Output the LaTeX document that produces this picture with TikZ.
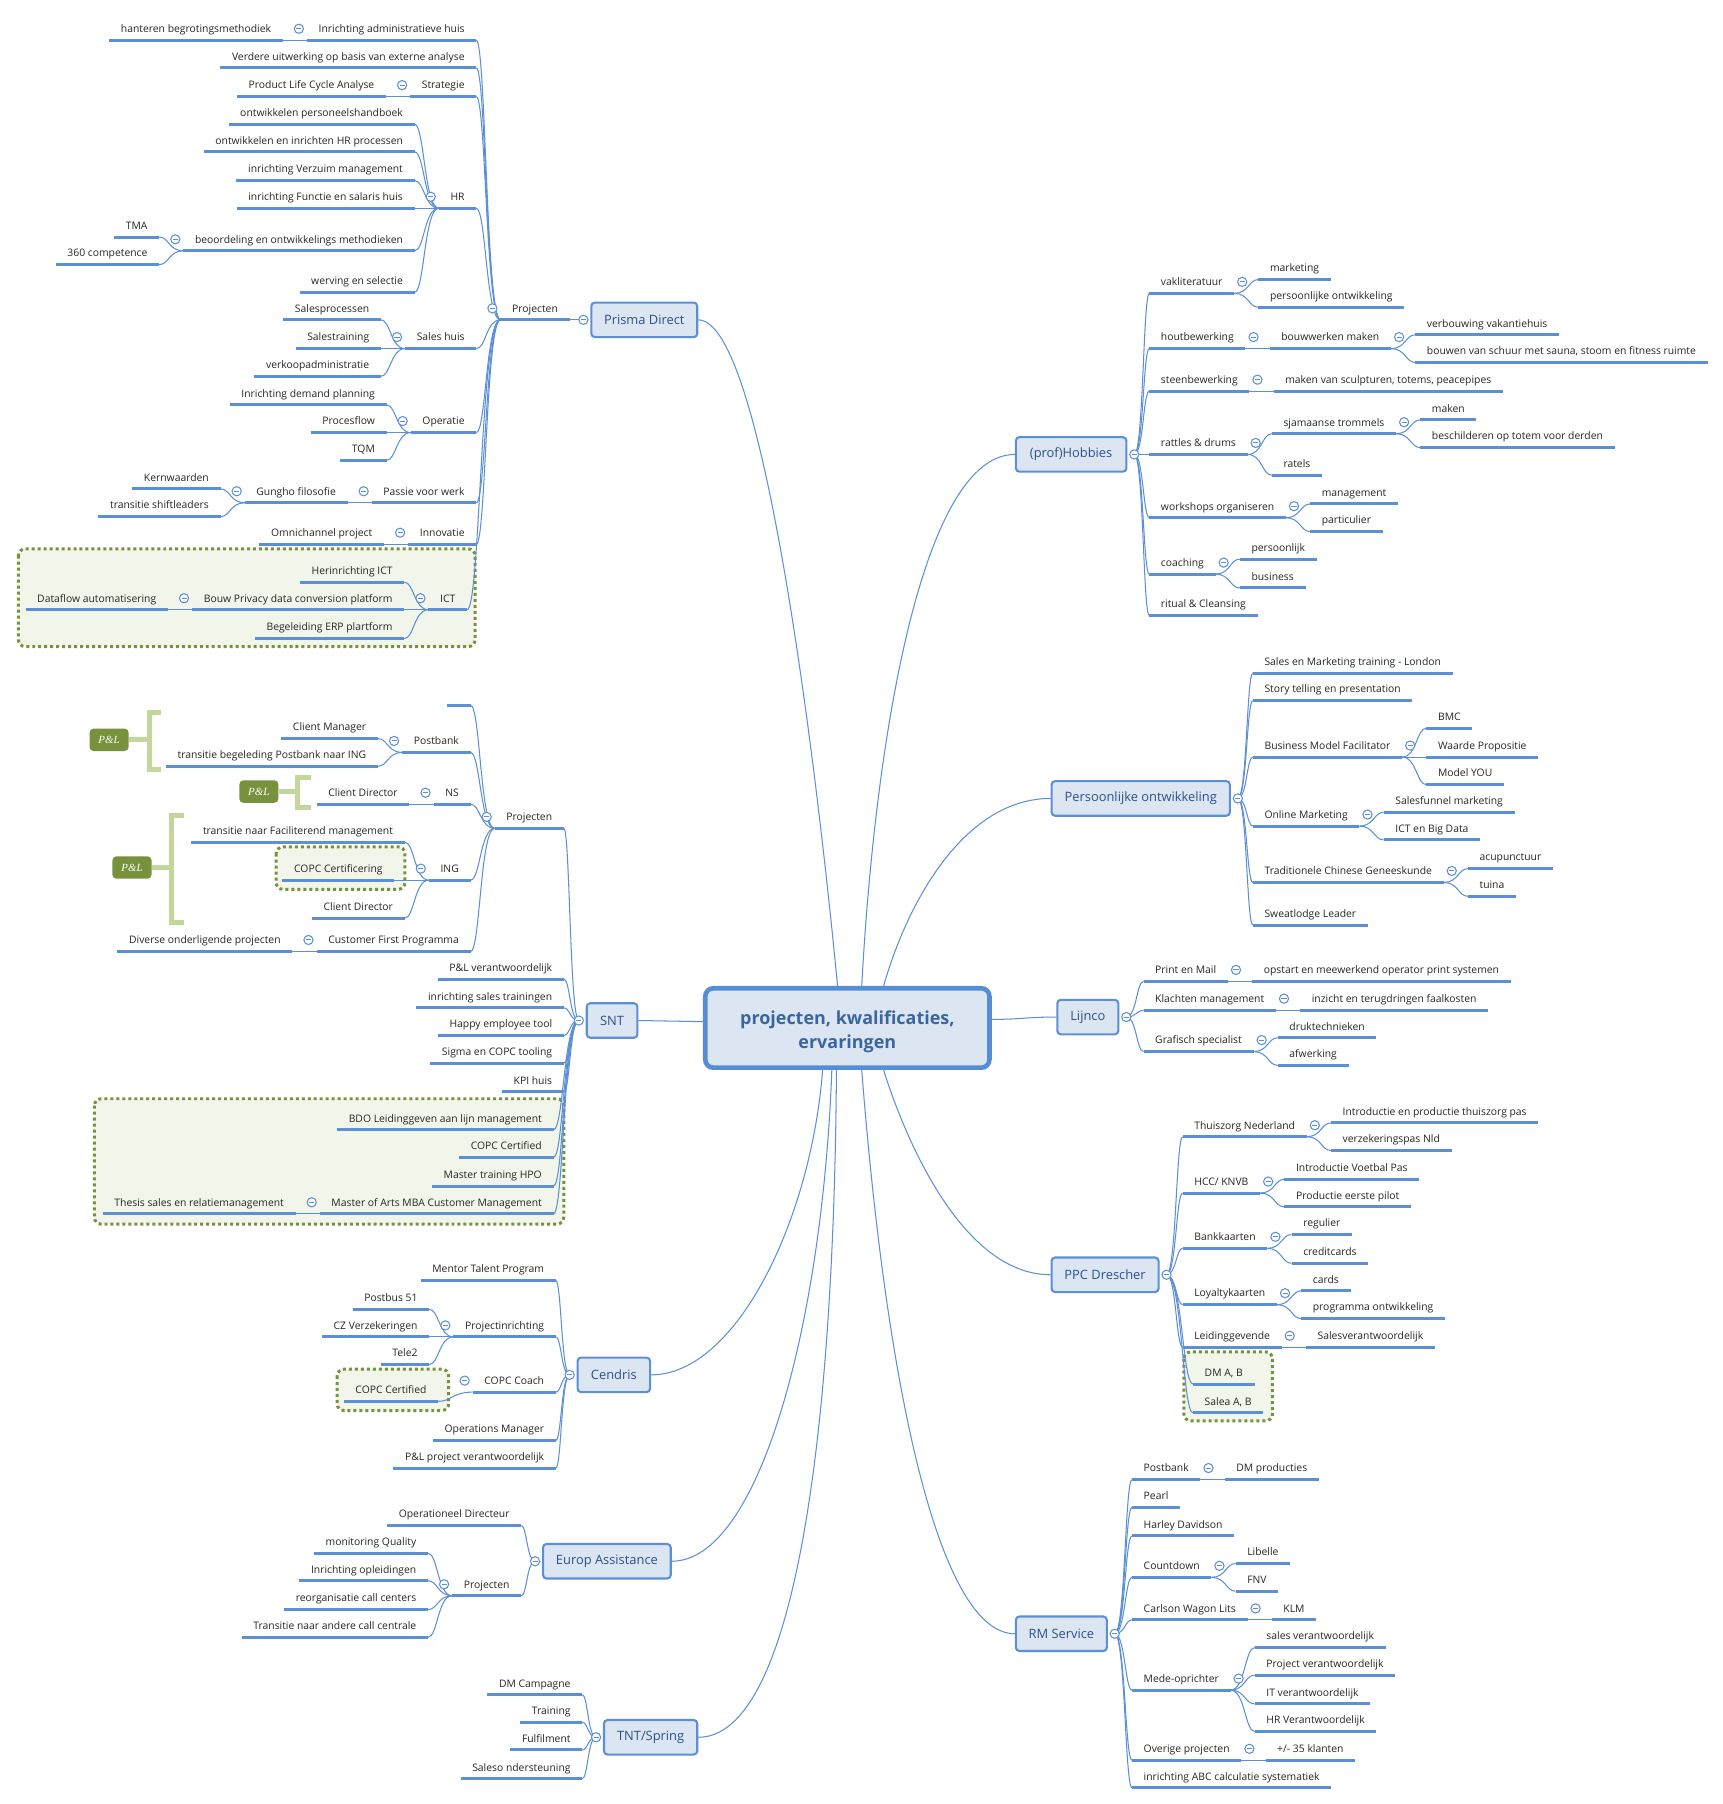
\documentclass[tikz,border=0pt]{standalone}
\usepackage{fontspec}
\setmainfont{Open Sans}
\newfontfamily\plserif{Liberation Serif}
\usetikzlibrary{calc}
\definecolor{lineblue}{HTML}{5B8FD6}
\definecolor{boxfill}{HTML}{DCE6F2}
\definecolor{boxtext}{HTML}{2B5189}
\definecolor{ctrline}{HTML}{558ED5}
\definecolor{ctrtext}{HTML}{3A66A0}
\definecolor{grpfill}{HTML}{F1F5EA}
\definecolor{grpline}{HTML}{76923C}
\definecolor{plgreen}{HTML}{76923C}
\definecolor{brkgreen}{HTML}{C3D69B}
\pgfdeclarelayer{grp}\pgfdeclarelayer{bg}\pgfsetlayers{grp,bg,main}
\newcommand\labfont{\fontsize{9}{10}\selectfont}
\newcommand\topfont{\fontsize{11.2}{13}\selectfont}
\newcommand\ctrfont{\fontsize{15.6}{21}\selectfont\bfseries}
\newcommand\mmL[5]{\path let \p1=(#2) in node[lab,anchor=south east] (#1) at (\x1-#3pt,-#4pt) {#5};}
\newcommand\mmR[5]{\path let \p1=(#2) in node[lab,anchor=south west] (#1) at (\x1+#3pt,-#4pt) {#5};}
\newcommand\cn[2]{\begin{pgfonlayer}{bg}\draw[conn] let \p1=(#1), \p2=(#2) in (\p1) .. controls ({\x2+0.4*(\x1-\x2)},\y1) and ({\x2+0.4*(\x1-\x2)},\y2) .. (\p2);\end{pgfonlayer}}
\newcommand\cnL[2]{\cn{#1.south west}{#2.south east}}
\newcommand\cnR[2]{\cn{#1.south east}{#2.south west}}
\newcommand\cmark[1]{\begin{scope}[shift={(#1)}]\draw[conn,fill=white] (0,0) circle[radius=4];\draw[conn] (-2.2,0) -- (2.2,0);\end{scope}}
\newcommand\ccL[1]{\cmark{$(#1.south west)+(-7,-10)$}}
\newcommand\ccR[1]{\cmark{$(#1.south east)+(7,-10)$}}
\begin{document}
\begin{tikzpicture}[x=1pt,y=-1pt,
 ul/.style={draw=lineblue, line width=2.6pt},
 conn/.style={draw=lineblue, line width=0.9pt},
 lab/.style={font=\labfont, text=black!85, inner xsep=10pt, inner ysep=4pt, text height=6.5pt, text depth=2.5pt,
   append after command={(\tikzlastnode.south west) edge[ul] (\tikzlastnode.south east)}},
 topic/.style={draw=lineblue, line width=1.8pt, fill=boxfill, rounded corners=3pt, font=\topfont, text=boxtext, minimum height=30pt, inner sep=0pt},
 grp/.style={draw=grpline, fill=grpfill, line width=2.6pt, dash pattern=on 2.6pt off 2.6pt, rounded corners=6pt},
 pl/.style={fill=plgreen, rounded corners=3.5pt, minimum width=34pt, minimum height=19.5pt, inner sep=0pt, text=white, font=\plserif\itshape\fontsize{9.5}{10}\selectfont},
 brk/.style={draw=brkgreen, line width=4.5pt}]
\begin{pgfonlayer}{grp}
\fill[white] (0,0) rectangle (1497,1568);
\draw[grp] (16,477) rectangle (413,562);
\draw[grp] (240,736) rectangle (352,773);
\draw[grp] (82,955) rectangle (490,1064);
\draw[grp] (293,1190) rectangle (390,1226);
\draw[grp] (1029,1175) rectangle (1106,1235);
\end{pgfonlayer}
\useasboundingbox (0,0) rectangle (1497,1568);

% ---------- central ----------
\node[draw=ctrline, line width=4pt, fill=boxfill, rounded corners=7pt, minimum width=247pt, minimum height=69pt, inner sep=0pt] (ctr) at (736.5,893.5) {};
\node[align=center, font=\ctrfont, text=ctrtext, inner sep=0pt] (ctrtxt) at ($(ctr.center)+(0,3)$) {projecten, kwalificaties,\\ervaringen};

% ---------- Prisma Direct ----------
\node[topic, minimum width=92] (prisma) at (560,278) {Prisma Direct};
\coordinate (prisma-j) at ($(prisma.west)+(-6,0)$);
\mmL{pp}{prisma.west}{18}{278}{Projecten}
\mmL{pa1}{pp.south west}{21}{35}{Inrichting administratieve huis}
\mmL{pa1a}{pa1.south west}{21}{35}{hanteren begrotingsmethodiek}
\mmL{pa2}{pp.south west}{21}{59}{Verdere uitwerking op basis van externe analyse}
\mmL{pa3}{pp.south west}{21}{84}{Strategie}
\mmL{pa3a}{pa3.south west}{21}{84}{Product Life Cycle Analyse}
\mmL{pa4}{pp.south west}{21}{181}{HR}
\mmL{hr1}{pa4.south west}{21}{108}{ontwikkelen personeelshandboek}
\mmL{hr2}{pa4.south west}{21}{132}{ontwikkelen en inrichten HR processen}
\mmL{hr3}{pa4.south west}{21}{157}{inrichting Verzuim management}
\mmL{hr4}{pa4.south west}{21}{181}{inrichting Functie en salaris huis}
\mmL{hr5}{pa4.south west}{21}{218}{beoordeling en ontwikkelings methodieken}
\mmL{hr5a}{hr5.south west}{21}{206}{TMA}
\mmL{hr5b}{hr5.south west}{21}{230}{360 competence}
\mmL{hr6}{pa4.south west}{21}{254}{werving en selectie}
\mmL{pa5}{pp.south west}{21}{303}{Sales huis}
\mmL{sh1}{pa5.south west}{21}{278}{Salesprocessen}
\mmL{sh2}{pa5.south west}{21}{303}{Salestraining}
\mmL{sh3}{pa5.south west}{21}{327}{verkoopadministratie}
\mmL{pa6}{pp.south west}{21}{376}{Operatie}
\mmL{op1}{pa6.south west}{21}{352}{Inrichting demand planning}
\mmL{op2}{pa6.south west}{21}{376}{Procesflow}
\mmL{op3}{pa6.south west}{21}{400}{TQM}
\mmL{pa7}{pp.south west}{21}{437}{Passie voor werk}
\mmL{pv1}{pa7.south west}{21}{437}{Gungho filosofie}
\mmL{gf1}{pv1.south west}{21}{425}{Kernwaarden}
\mmL{gf2}{pv1.south west}{21}{449}{transitie shiftleaders}
\mmL{pa8}{pp.south west}{21}{473}{Innovatie}
\mmL{in1}{pa8.south west}{21}{473}{Omnichannel project}
\mmL{pa9}{pp.south west}{29}{530}{ICT}
\mmL{ict1}{pa9.south west}{21}{506}{Herinrichting ICT}
\mmL{ict2}{pa9.south west}{21}{530}{Bouw Privacy data conversion platform}
\mmL{ict2a}{ict2.south west}{21}{530}{Dataflow automatisering}
\mmL{ict3}{pa9.south west}{21}{555}{Begeleiding ERP plartform}

\cn{prisma-j}{pp.south east}
\foreach \c in {pa1,pa2,pa3,pa4,pa5,pa6,pa7,pa8,pa9}{\cnL{pp}{\c}}
\cnL{pa1}{pa1a}\cnL{pa3}{pa3a}
\foreach \c in {hr1,hr2,hr3,hr4,hr5,hr6}{\cnL{pa4}{\c}}
\cnL{hr5}{hr5a}\cnL{hr5}{hr5b}
\foreach \c in {sh1,sh2,sh3}{\cnL{pa5}{\c}}
\foreach \c in {op1,op2,op3}{\cnL{pa6}{\c}}
\cnL{pa7}{pv1}\cnL{pv1}{gf1}\cnL{pv1}{gf2}\cnL{pa8}{in1}
\foreach \c in {ict1,ict2,ict3}{\cnL{pa9}{\c}}
\cnL{ict2}{ict2a}

% ---------- SNT ----------
\node[topic, minimum width=44] (snt) at (532,887) {SNT};
\coordinate (snt-j) at ($(snt.west)+(-6,0)$);
\mmL{sp}{snt.west}{19}{720}{Projecten}
\mmL{sp0}{sp.south west}{21}{613}{}
\mmL{sp1}{sp.south west}{21}{654}{Postbank}
\mmL{pb1}{sp1.south west}{21}{642}{Client Manager}
\mmL{pb2}{sp1.south west}{21}{666}{transitie begeleding Postbank naar ING}
\mmL{sp2}{sp.south west}{21}{699}{NS}
\mmL{ns1}{sp2.south west}{21}{699}{Client Director}
\mmL{sp3}{sp.south west}{21}{765}{ING}
\mmL{ing1}{sp3.south west}{21}{732}{transitie naar Faciliterend management}
\mmL{ing2}{sp3.south west}{30}{765}{COPC Certificering}
\mmL{ing3}{sp3.south west}{21}{798}{Client Director}
\mmL{sp4}{sp.south west}{21}{827}{Customer First Programma}
\mmL{cf1}{sp4.south west}{21}{827}{Diverse onderligende projecten}
\mmL{s1}{snt.west}{19}{851}{P\&L verantwoordelijk}
\mmL{s2}{snt.west}{19}{876}{inrichting sales trainingen}
\mmL{s3}{snt.west}{19}{900}{Happy employee tool}
\mmL{s4}{snt.west}{19}{924}{Sigma en COPC tooling}
\mmL{s5}{snt.west}{19}{949}{KPI huis}
\mmL{s6}{snt.west}{28}{982}{BDO Leidinggeven aan lijn management}
\mmL{s7}{snt.west}{28}{1006}{COPC Certified}
\mmL{s8}{snt.west}{28}{1031}{Master training HPO}
\mmL{s9}{snt.west}{28}{1055}{Master of Arts MBA Customer Management}
\mmL{s9a}{s9.south west}{21}{1055}{Thesis sales en relatiemanagement}
\foreach \c in {sp,s1,s2,s3,s4,s5,s6,s7,s8,s9}{\cn{snt-j}{\c.south east}}
\foreach \c in {sp0,sp1,sp2,sp3,sp4}{\cnL{sp}{\c}}
\cnL{sp1}{pb1}\cnL{sp1}{pb2}\cnL{sp2}{ns1}
\foreach \c in {ing1,ing2,ing3}{\cnL{sp3}{\c}}
\cnL{sp4}{cf1}\cnL{s9}{s9a}

% P&L markers
\node[pl] (pl1) at (94.8,643) {P\&L};
\draw[brk] (139.7,619) -- (129.8,619) -- (129.8,668.6) -- (139.7,668.6);
\draw[brk] (pl1.east) -- (129.8,643);
\node[pl] (pl2) at (225,688) {P\&L};
\draw[brk] (270,676) -- (258.8,676) -- (258.8,702) -- (270,702);
\draw[brk] (pl2.east) -- (258.8,688);
\node[pl] (pl3) at (114.7,754) {P\&L};
\draw[brk] (159.7,709) -- (149,709) -- (149,802) -- (159.7,802);
\draw[brk] (pl3.east) -- (149,754);

% ---------- Cendris ----------
\node[topic, minimum width=63] (cen) at (533.5,1195) {Cendris};
\coordinate (cen-j) at ($(cen.west)+(-6,0)$);
\mmL{c1}{cen.west}{18}{1113}{Mentor Talent Program}
\mmL{c2}{cen.west}{18}{1162}{Projectinrichting}
\mmL{c2a}{c2.south west}{21}{1138}{Postbus 51}
\mmL{c2b}{c2.south west}{21}{1162}{CZ Verzekeringen}
\mmL{c2c}{c2.south west}{21}{1186}{Tele2}
\mmL{c3}{cen.west}{18}{1210}{COPC Coach}
\mmL{c3a}{c3.south west}{30}{1218}{COPC Certified}
\mmL{c4}{cen.west}{18}{1252}{Operations Manager}
\mmL{c5}{cen.west}{18}{1276}{P\&L project verantwoordelijk}
\foreach \c in {c1,c2,c3,c4,c5}{\cn{cen-j}{\c.south east}}
\foreach \c in {c2a,c2b,c2c}{\cnL{c2}{\c}}
\cnL{c3}{c3a}

% ---------- Europ Assistance ----------
\node[topic, minimum width=111] (eur) at (527.5,1357) {Europ Assistance};
\coordinate (eur-j) at ($(eur.west)+(-6,0)$);
\mmL{e1}{eur.west}{18}{1326}{Operationeel Directeur}
\mmL{e2}{eur.west}{18}{1387}{Projecten}
\mmL{e2a}{e2.south west}{21}{1350}{monitoring Quality}
\mmL{e2b}{e2.south west}{21}{1374}{Inrichting opleidingen}
\mmL{e2c}{e2.south west}{21}{1399}{reorganisatie call centers}
\mmL{e2d}{e2.south west}{21}{1423}{Transitie naar andere call centrale}
\cn{eur-j}{e1.south east}\cn{eur-j}{e2.south east}
\foreach \c in {e2a,e2b,e2c,e2d}{\cnL{e2}{\c}}

% ---------- TNT/Spring ----------
\node[topic, minimum width=81] (tnt) at (565.5,1510) {TNT/Spring};
\coordinate (tnt-j) at ($(tnt.west)+(-6,0)$);
\mmL{t1}{tnt.west}{18}{1473}{DM Campagne}
\mmL{t2}{tnt.west}{18}{1497}{Training}
\mmL{t3}{tnt.west}{18}{1521}{Fulfilment}
\mmL{t4}{tnt.west}{18}{1546}{Saleso ndersteuning}
\foreach \c in {t1,t2,t3,t4}{\cn{tnt-j}{\c.south east}}

% ---------- (prof)Hobbies ----------
\node[topic, minimum width=96] (hob) at (931,395) {(prof)Hobbies};
\coordinate (hob-j) at ($(hob.east)+(6,0)$);
\mmR{h1}{hob.east}{19}{255}{vakliteratuur}
\mmR{h1a}{h1.south east}{21}{243}{marketing}
\mmR{h1b}{h1.south east}{21}{267}{persoonlijke ontwikkeling}
\mmR{h2}{hob.east}{19}{303}{houtbewerking}
\mmR{h2a}{h2.south east}{21}{303}{bouwwerken maken}
\mmR{h2a1}{h2a.south east}{21}{291}{verbouwing vakantiehuis}
\mmR{h2a2}{h2a.south east}{21}{315}{bouwen van schuur met sauna, stoom en fitness ruimte}
\mmR{h3}{hob.east}{19}{340}{steenbewerking}
\mmR{h3a}{h3.south east}{21}{340}{maken van sculpturen, totems, peacepipes}
\mmR{h4}{hob.east}{19}{395}{rattles \& drums}
\mmR{h4a}{h4.south east}{21}{377}{sjamaanse trommels}
\mmR{h4a1}{h4a.south east}{21}{365}{maken}
\mmR{h4a2}{h4a.south east}{21}{389}{beschilderen op totem voor derden}
\mmR{h4b}{h4.south east}{21}{413}{ratels}
\mmR{h5}{hob.east}{19}{450}{workshops organiseren}
\mmR{h5a}{h5.south east}{21}{438}{management}
\mmR{h5b}{h5.south east}{21}{462}{particulier}
\mmR{h6}{hob.east}{19}{499}{coaching}
\mmR{h6a}{h6.south east}{21}{486}{persoonlijk}
\mmR{h6b}{h6.south east}{21}{511}{business}
\mmR{h7}{hob.east}{19}{535}{ritual \& Cleansing}
\foreach \c in {h1,h2,h3,h4,h5,h6,h7}{\cn{hob-j}{\c.south west}}
\cnR{h1}{h1a}\cnR{h1}{h1b}\cnR{h2}{h2a}\cnR{h2a}{h2a1}\cnR{h2a}{h2a2}\cnR{h3}{h3a}
\cnR{h4}{h4a}\cnR{h4}{h4b}\cnR{h4a}{h4a1}\cnR{h4a}{h4a2}
\cnR{h5}{h5a}\cnR{h5}{h5b}\cnR{h6}{h6a}\cnR{h6}{h6b}

% ---------- Persoonlijke ontwikkeling ----------
\node[topic, minimum width=155] (po) at (991.5,694) {Persoonlijke ontwikkeling};
\coordinate (po-j) at ($(po.east)+(6,0)$);
\mmR{po1}{po.east}{19}{585}{Sales en Marketing training - London}
\mmR{po2}{po.east}{19}{609}{Story telling en presentation}
\mmR{po3}{po.east}{19}{658}{Business Model Facilitator}
\mmR{po3a}{po3.south east}{21}{633}{BMC}
\mmR{po3b}{po3.south east}{21}{658}{Waarde Propositie}
\mmR{po3c}{po3.south east}{21}{682}{Model YOU}
\mmR{po4}{po.east}{19}{718}{Online Marketing}
\mmR{po4a}{po4.south east}{21}{706}{Salesfunnel marketing}
\mmR{po4b}{po4.south east}{21}{730}{ICT en Big Data}
\mmR{po5}{po.east}{19}{767}{Traditionele Chinese Geneeskunde}
\mmR{po5a}{po5.south east}{21}{755}{acupunctuur}
\mmR{po5b}{po5.south east}{21}{779}{tuina}
\mmR{po6}{po.east}{19}{804}{Sweatlodge Leader}
\foreach \c in {po1,po2,po3,po4,po5,po6}{\cn{po-j}{\c.south west}}
\cnR{po3}{po3a}\cnR{po3}{po3b}\cnR{po3}{po3c}\cnR{po4}{po4a}\cnR{po4}{po4b}\cnR{po5}{po5a}\cnR{po5}{po5b}

% ---------- Lijnco ----------
\node[topic, minimum width=53] (lij) at (945.5,884) {Lijnco};
\coordinate (lij-j) at ($(lij.east)+(6,0)$);
\mmR{l1}{lij.east}{21}{853}{Print en Mail}
\mmR{l1a}{l1.south east}{21}{853}{opstart en meewerkend operator print systemen}
\mmR{l2}{lij.east}{21}{878}{Klachten management}
\mmR{l2a}{l2.south east}{21}{878}{inzicht en terugdringen faalkosten}
\mmR{l3}{lij.east}{21}{914}{Grafisch specialist}
\mmR{l3a}{l3.south east}{21}{902}{druktechnieken}
\mmR{l3b}{l3.south east}{21}{926}{afwerking}
\foreach \c in {l1,l2,l3}{\cn{lij-j}{\c.south west}}
\cnR{l1}{l1a}\cnR{l2}{l2a}\cnR{l3}{l3a}\cnR{l3}{l3b}

% ---------- PPC Drescher ----------
\node[topic, minimum width=93] (ppc) at (960.5,1108) {PPC Drescher};
\coordinate (ppc-j) at ($(ppc.east)+(6,0)$);
\mmR{pc1}{ppc.east}{20}{988}{Thuiszorg Nederland}
\mmR{pc1a}{pc1.south east}{21}{976}{Introductie en productie thuiszorg pas}
\mmR{pc1b}{pc1.south east}{21}{1000}{verzekeringspas Nld}
\mmR{pc2}{ppc.east}{20}{1037}{HCC/ KNVB}
\mmR{pc2a}{pc2.south east}{21}{1025}{Introductie Voetbal Pas}
\mmR{pc2b}{pc2.south east}{21}{1049}{Productie eerste pilot}
\mmR{pc3}{ppc.east}{20}{1085}{Bankkaarten}
\mmR{pc3a}{pc3.south east}{21}{1073}{regulier}
\mmR{pc3b}{pc3.south east}{21}{1098}{creditcards}
\mmR{pc4}{ppc.east}{20}{1134}{Loyaltykaarten}
\mmR{pc4a}{pc4.south east}{21}{1122}{cards}
\mmR{pc4b}{pc4.south east}{21}{1146}{programma ontwikkeling}
\mmR{pc5}{ppc.east}{20}{1171}{Leidinggevende}
\mmR{pc5a}{pc5.south east}{21}{1171}{Salesverantwoordelijk}
\mmR{pc6}{ppc.east}{29}{1203}{DM A, B}
\mmR{pc7}{ppc.east}{29}{1228}{Salea A, B}
\foreach \c in {pc1,pc2,pc3,pc4,pc5,pc6,pc7}{\cn{ppc-j}{\c.south west}}
\cnR{pc1}{pc1a}\cnR{pc1}{pc1b}\cnR{pc2}{pc2a}\cnR{pc2}{pc2b}\cnR{pc3}{pc3a}\cnR{pc3}{pc3b}
\cnR{pc4}{pc4a}\cnR{pc4}{pc4b}\cnR{pc5}{pc5a}

% ---------- RM Service ----------
\node[topic, minimum width=79] (rm) at (922.5,1420) {RM Service};
\coordinate (rm-j) at ($(rm.east)+(6,0)$);
\mmR{r1}{rm.east}{21}{1286}{Postbank}
\mmR{r1a}{r1.south east}{21}{1286}{DM producties}
\mmR{r2}{rm.east}{21}{1310}{Pearl}
\mmR{r3}{rm.east}{21}{1335}{Harley Davidson}
\mmR{r4}{rm.east}{21}{1371}{Countdown}
\mmR{r4a}{r4.south east}{21}{1359}{Libelle}
\mmR{r4b}{r4.south east}{21}{1383}{FNV}
\mmR{r5}{rm.east}{21}{1408}{Carlson Wagon Lits}
\mmR{r5a}{r5.south east}{21}{1408}{KLM}
\mmR{r6}{rm.east}{21}{1469}{Mede-oprichter}
\mmR{r6a}{r6.south east}{21}{1432}{sales verantwoordelijk}
\mmR{r6b}{r6.south east}{21}{1456}{Project verantwoordelijk}
\mmR{r6c}{r6.south east}{21}{1481}{IT verantwoordelijk}
\mmR{r6d}{r6.south east}{21}{1505}{HR Verantwoordelijk}
\mmR{r7}{rm.east}{21}{1530}{Overige projecten}
\mmR{r7a}{r7.south east}{21}{1530}{+/- 35 klanten}
\mmR{r8}{rm.east}{21}{1554}{inrichting ABC calculatie systematiek}
\foreach \c in {r1,r2,r3,r4,r5,r6,r7,r8}{\cn{rm-j}{\c.south west}}
\cnR{r1}{r1a}\cnR{r4}{r4a}\cnR{r4}{r4b}\cnR{r5}{r5a}
\foreach \c in {r6a,r6b,r6c,r6d}{\cnR{r6}{\c}}
\cnR{r7}{r7a}

% ---------- central connectors ----------
\begin{pgfonlayer}{bg}
\draw[conn] ($(ctr.north west)+(117,0)$) .. controls (712,690) and (665,278) .. (prisma.east);
\draw[conn] ($(ctr.north west)+(138,0)$) .. controls (760,650) and (800,395) .. (hob.west);
\draw[conn] ($(ctr.north west)+(157,0)$) .. controls (790,780) and (840,694) .. (po.west);
\draw[conn] ($(ctr.north east)+(0,29)$) .. controls (890,886) and (890,884) .. (lij.west);
\draw[conn] ($(ctr.north west)+(0,31)$) .. controls (583,888) and (583,887) .. (snt.east);
\draw[conn] ($(ctr.south west)+(157,0)$) .. controls (790,1000) and (840,1108) .. (ppc.west);
\draw[conn] ($(ctr.south west)+(138,0)$) .. controls (770,1200) and (815,1420) .. (rm.west);
\draw[conn] ($(ctr.south west)+(104,0)$) .. controls (705,1060) and (640,1195) .. (cen.east);
\draw[conn] ($(ctr.south west)+(112,0)$) .. controls (715,1150) and (660,1357) .. (eur.east);
\draw[conn] ($(ctr.south west)+(116,0)$) .. controls (725,1250) and (690,1510) .. (tnt.east);
\end{pgfonlayer}

% ---------- collapse marks ----------
\cmark{prisma-j}\cmark{snt-j}\cmark{cen-j}\cmark{eur-j}\cmark{tnt-j}
\cmark{hob-j}\cmark{po-j}\cmark{lij-j}\cmark{ppc-j}\cmark{rm-j}
\foreach \p in {pp,pa1,pa3,pa4,hr5,pa5,pa6,pa7,pv1,pa8,pa9,ict2,sp,sp1,sp2,sp3,sp4,s9,c2,c3,e2}{\ccL{\p}}
\foreach \p in {h1,h2,h2a,h3,h4,h4a,h5,h6,po3,po4,po5,l1,l2,l3,pc1,pc2,pc3,pc4,pc5,r1,r4,r5,r6,r7}{\ccR{\p}}
\end{tikzpicture}
\end{document}
